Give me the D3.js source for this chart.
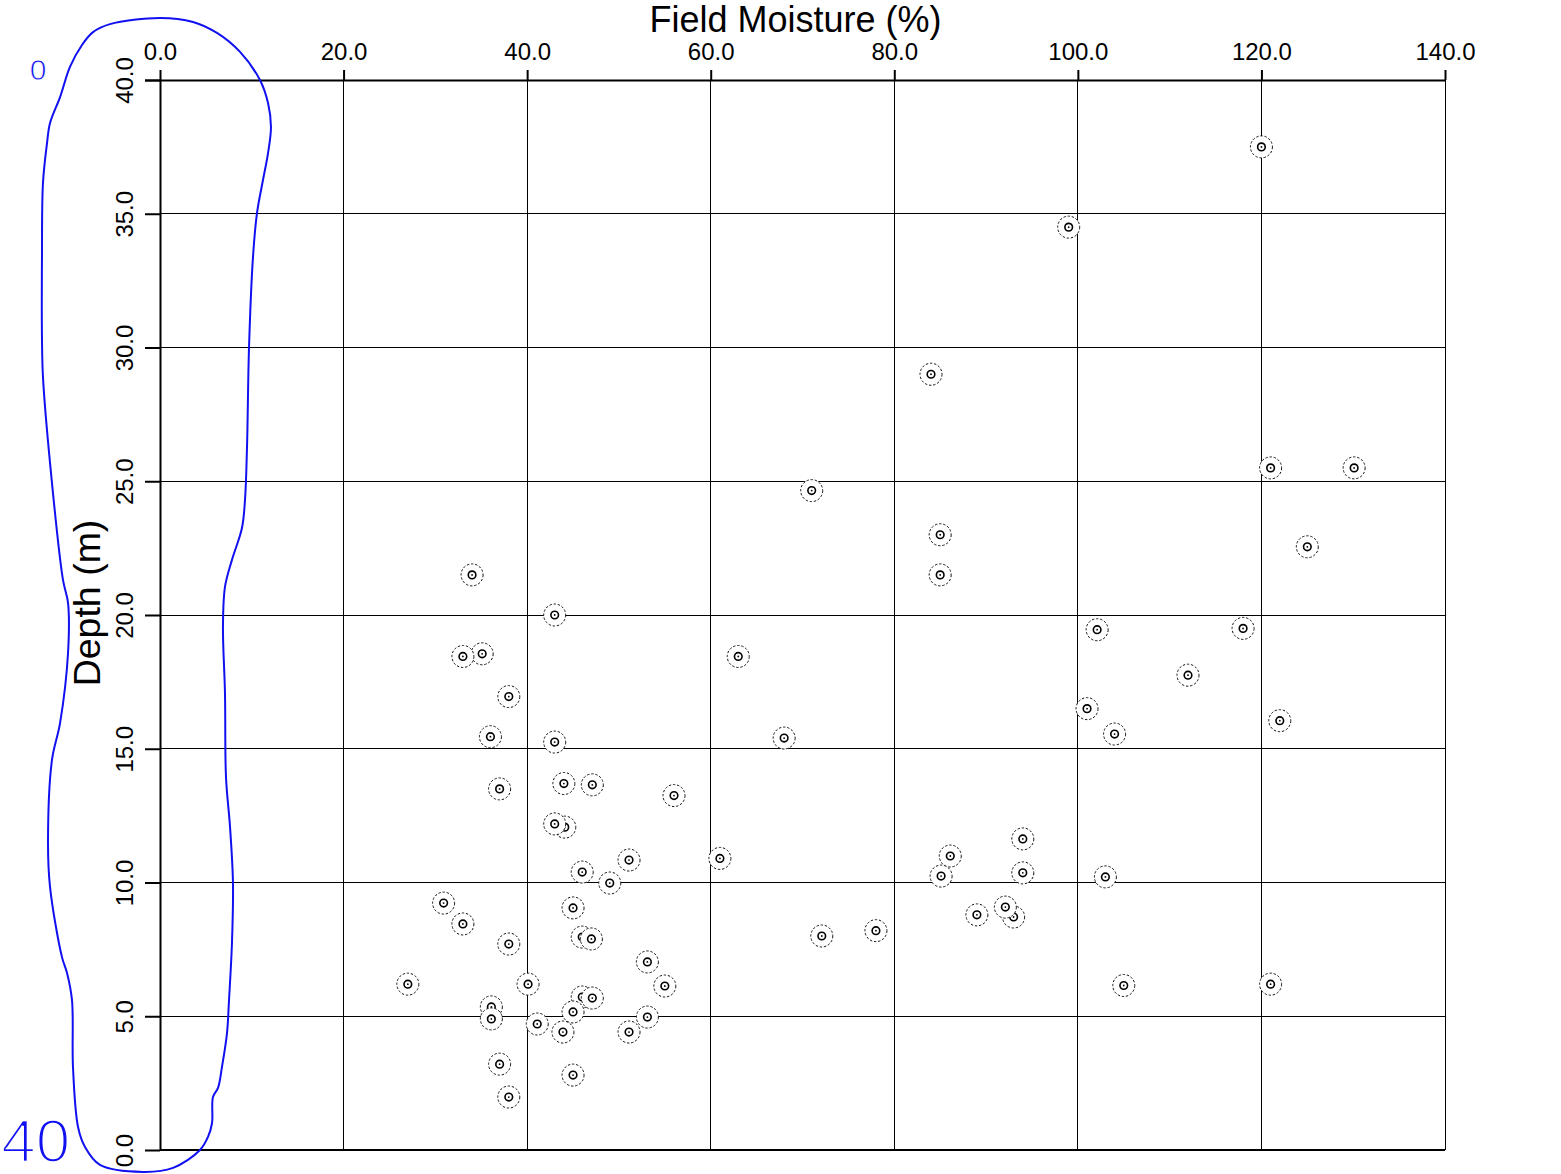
<!DOCTYPE html>
<html>
<head>
<meta charset="utf-8">
<script src="https://cdn.jsdelivr.net/npm/d3@7"></script>
<style>
  html, body { margin: 0; padding: 0; background: #fff; }
  svg { display: block; }
  text { font-family: "Liberation Sans", Arial, sans-serif; }
</style>
</head>
<body>
<svg id="chart" width="1561" height="1174"></svg>
<script>
// ---- Data ----
const moisture = [120.0, 99.0, 84.0, 121.0, 130.1, 71.0, 85.0, 125.0, 85.0, 34.0,
  43.0, 102.1, 118.0, 35.1, 33.0, 63.0, 112.0, 38.0, 101.0, 122.0,
  36.0, 43.0, 68.0, 104.0, 37.0, 44.0, 47.1, 56.0, 44.1, 43.0,
  94.0, 51.1, 61.0, 86.1, 46.0, 94.0, 85.1, 103.0, 49.0, 30.9,
  93.0, 92.1, 45.0, 89.0, 33.0, 78.0, 72.1, 46.0, 47.0, 38.0,
  53.1, 27.0, 40.1, 55.0, 105.0, 121.0, 46.0, 47.1, 36.1, 36.1,
  45.0, 53.1, 41.1, 43.9, 51.1, 37.0, 45.0, 38.0];
const depth = [37.5, 34.5, 29.0, 25.5, 25.5, 24.65, 23.0, 22.55, 21.5, 21.5,
  20.0, 19.45, 19.5, 18.55, 18.45, 18.45, 17.75, 16.95, 16.5, 16.05,
  15.45, 15.25, 15.4, 15.55, 13.5, 13.7, 13.65, 13.25, 12.07, 12.19,
  11.63, 10.84, 10.9, 10.99, 10.39, 10.36, 10.24, 10.21, 9.98, 9.23,
  8.71, 9.08, 9.05, 8.79, 8.45, 8.2, 8.0, 7.96, 7.89, 7.7,
  7.03, 6.2, 6.2, 6.13, 6.15, 6.2, 5.72, 5.68, 5.35, 4.9,
  5.16, 4.97, 4.71, 4.41, 4.41, 3.21, 2.8, 1.98];
const xTicks = [0, 20, 40, 60, 80, 100, 120, 140];
const yTicks = [0, 5, 10, 15, 20, 25, 30, 35, 40];
const xTitle = "Field Moisture (%)";
const yTitle = "Depth (m)";
// hand-drawn annotation outline (in data units: moisture, depth)
const noteX = [0.0, -5.45, -7.3, -8.5, -9.81, -10.89, -11.98, -12.31, -12.75, -12.86,
  -12.86, -12.75, -11.98, -10.57, -10.02, -10.02, -10.89, -11.77, -12.2, -11.98,
  -10.68, -10.13, -9.59, -9.48, -8.93, -8.17, -6.54, -1.85, 1.42, 4.36,
  5.23, 5.67, 5.77, 6.32, 6.75, 7.3, 7.52, 7.84, 7.95, 7.63,
  7.19, 7.08, 6.86, 7.08, 7.84, 8.93, 9.26, 9.48, 9.7, 10.13,
  10.57, 11.22, 11.77, 12.09, 11.77, 10.89, 8.72, 6.21, 3.6];
const noteY = [42.32, 42.09, 41.79, 41.31, 40.49, 39.36, 38.39, 37.64, 36.15, 33.27,
  30.39, 28.9, 25.68, 21.31, 20.45, 18.58, 15.96, 14.58, 11.48, 9.83,
  7.21, 6.62, 5.61, 3.1, 0.86, 0.11, -0.56, -0.82, -0.67, 0.0,
  0.49, 1.01, 1.98, 2.32, 3.1, 4.37, 5.61, 7.74, 9.98, 12.07,
  13.94, 17.08, 19.55, 21.05, 22.06, 23.25, 24.3, 26.28, 30.02, 33.38,
  35.03, 36.26, 37.27, 38.24, 39.14, 40.0, 41.05, 41.76, 42.17];
const noteLabels = ["0", "40"];

// ---- Layout ----
const svg = d3.select("#chart");
const pLeft = 160, pRight = 1445, pTop = 80, pBottom = 1150;
const x = d3.scaleLinear().domain([0, 140]).range([pLeft, pRight]);
const y = d3.scaleLinear().domain([0, 40]).range([pBottom, pTop]);
const fmt = d3.format(".1f");

// handwritten labels (drawn first, thinned with a white halo)
svg.append("text").attr("x", x(-14.2)).attr("y", y(40.0))
  .attr("font-family", "Liberation Sans").attr("font-size", 30)
  .attr("fill", "#1010f0").attr("stroke", "#fff").attr("stroke-width", 0.8)
  .text(noteLabels[0]);
svg.append("text").attr("x", x(-17.3)).attr("y", y(-0.45))
  .attr("font-family", "Liberation Sans").attr("font-size", 62)
  .attr("fill", "#1010f0").attr("stroke", "#fff").attr("stroke-width", 2.4)
  .text(noteLabels[1]);

// grid
const grid = svg.append("g");
grid.selectAll("line.v").data(xTicks).join("line")
  .attr("x1", d => x(d)).attr("x2", d => x(d))
  .attr("y1", pTop).attr("y2", pBottom)
  .attr("stroke", "#000").attr("stroke-width", 1).attr("shape-rendering", "crispEdges");
grid.selectAll("line.h").data(yTicks).join("line")
  .attr("x1", pLeft).attr("x2", pRight)
  .attr("y1", d => y(d)).attr("y2", d => y(d))
  .attr("stroke", "#000").attr("stroke-width", d => d === 0 ? 2 : 1).attr("shape-rendering", "crispEdges");

// top axis
const xAxis = svg.append("g").attr("transform", `translate(0,${pTop})`)
  .call(d3.axisTop(x).tickValues(xTicks).tickFormat(fmt).tickSize(10).tickSizeOuter(0).tickPadding(10));
xAxis.select(".domain").attr("d", `M${pLeft - 15},0.5H${pRight}`).attr("stroke-width", 2);
xAxis.selectAll(".tick line").attr("stroke-width", 2);
xAxis.selectAll(".tick text").attr("font-size", 24).attr("font-family", "Liberation Sans, Arial, sans-serif").attr("fill", "#000");

// left axis
const yAxis = svg.append("g").attr("transform", `translate(${pLeft},0)`)
  .call(d3.axisLeft(y).tickValues(yTicks).tickFormat(fmt).tickSize(15).tickSizeOuter(0));
yAxis.select(".domain").attr("stroke-width", 2);
yAxis.selectAll(".tick line").attr("stroke-width", 2);
yAxis.selectAll(".tick text")
  .attr("x", null).attr("dy", null)
  .attr("transform", "translate(-27,0) rotate(-90)")
  .attr("text-anchor", "middle")
  .attr("font-size", 24).attr("font-family", "Liberation Sans, Arial, sans-serif").attr("fill", "#000");

// titles
svg.append("text").attr("x", (pLeft + pRight) / 2 - 7).attr("y", 32)
  .attr("text-anchor", "middle").attr("font-size", 36).text(xTitle);
svg.append("text").attr("transform", `translate(100,${(pTop + pBottom) / 2 - 12}) rotate(-90)`)
  .attr("text-anchor", "middle").attr("font-size", 37.5).text(yTitle);

// points
const pts = moisture.map((m, i) => ({ m, d: depth[i] }));
const pg = svg.append("g").selectAll("g").data(pts).join("g")
  .attr("transform", p => `translate(${x(p.m)},${y(p.d)})`);
pg.append("circle").attr("r", 11).attr("fill", "#fff")
  .attr("stroke", "#111").attr("stroke-width", 1).attr("stroke-dasharray", "2.4,1.8");
pg.append("circle").attr("r", 3.8).attr("fill", "#fff")
  .attr("stroke", "#000").attr("stroke-width", 1.6);
pg.append("circle").attr("r", 0.9).attr("fill", "#000");

// blue hand-drawn annotation outline
const note = noteX.map((v, i) => [x(v), y(noteY[i])]);
svg.append("path")
  .attr("d", d3.line().curve(d3.curveCatmullRomClosed.alpha(0.5))(note))
  .attr("fill", "none").attr("stroke", "#1010f0").attr("stroke-width", 2);
</script>
</body>
</html>
